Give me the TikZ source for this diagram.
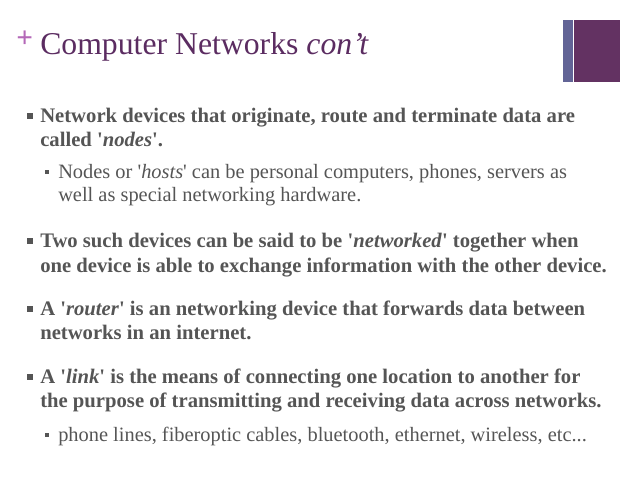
\documentclass[tikz,border=0pt]{standalone}
\usepackage{fontspec}
\setmainfont{Liberation Serif}
\definecolor{ttl}{HTML}{5B2C61}
\definecolor{pls}{HTML}{B468B8}
\definecolor{bar1}{HTML}{626496}
\definecolor{bar2}{HTML}{633262}
\definecolor{txt}{HTML}{555555}
\newcommand{\q}{\textquotesingle}
\tikzset{
 main/.style={anchor=base west,inner sep=0pt,text=txt,font=\fontsize{15.5}{17}\selectfont\bfseries},
 sub/.style={anchor=base west,inner sep=0pt,text=txt,font=\fontsize{15.3}{17}\selectfont},
 bul/.style={fill=txt,minimum size=4pt,inner sep=0pt},
 sbul/.style={fill=txt,minimum size=3.5pt,inner sep=0pt}
}
\begin{document}
\begin{tikzpicture}[x=0.75pt,y=-0.75pt]
\useasboundingbox (0,0) rectangle (638,478);
\fill[bar1] (563,20) rectangle (573,82);
\fill[bar2] (574,20) rectangle (620,82);
\node[anchor=base west,inner sep=0pt,text=pls,font=\fontsize{22}{22}\selectfont\bfseries] (plus) at (16,48) {+};
\node[anchor=base west,inner sep=0pt,text=ttl,font=\fontsize{23.8}{25}\selectfont] (title) at (40,55) {Computer Networks \textit{con’t}};
\node[bul] (b1) at (30,116) {};
\node[main] (l1) at (40,122) {Network devices that originate, route and terminate data are};
\node[main] (l2) at (40,146) {called \q\textit{nodes}\q.};
\node[sbul] (s1) at (47,172) {};
\node[sub] (l3) at (58,178) {Nodes or \q\textit{hosts}\q\ can be personal computers, phones, servers as};
\node[sub] (l4) at (58,201) {well as special networking hardware.};
\node[bul] (b2) at (30,241) {};
\node[main] (l5) at (40,247) {Two such devices can be said to be \q\textit{networked}\q\ together when};
\node[main] (l6) at (40,272) {one device is able to exchange information with the other device.};
\node[bul] (b3) at (30,309) {};
\node[main] (l7) at (40,315) {A \q\textit{router}\q\ is an networking device that forwards data between};
\node[main] (l8) at (40,339) {networks in an internet.};
\node[bul] (b4) at (30,377) {};
\node[main] (l9) at (40,383) {A \q\textit{link}\q\ is the means of connecting one location to another for};
\node[main] (l10) at (40,407) {the purpose of transmitting and receiving data across networks.};
\node[sbul] (s2) at (47,435) {};
\node[sub] (l11) at (58,441) {phone lines, fiberoptic cables, bluetooth, ethernet, wireless, etc...};
\end{tikzpicture}
\end{document}
